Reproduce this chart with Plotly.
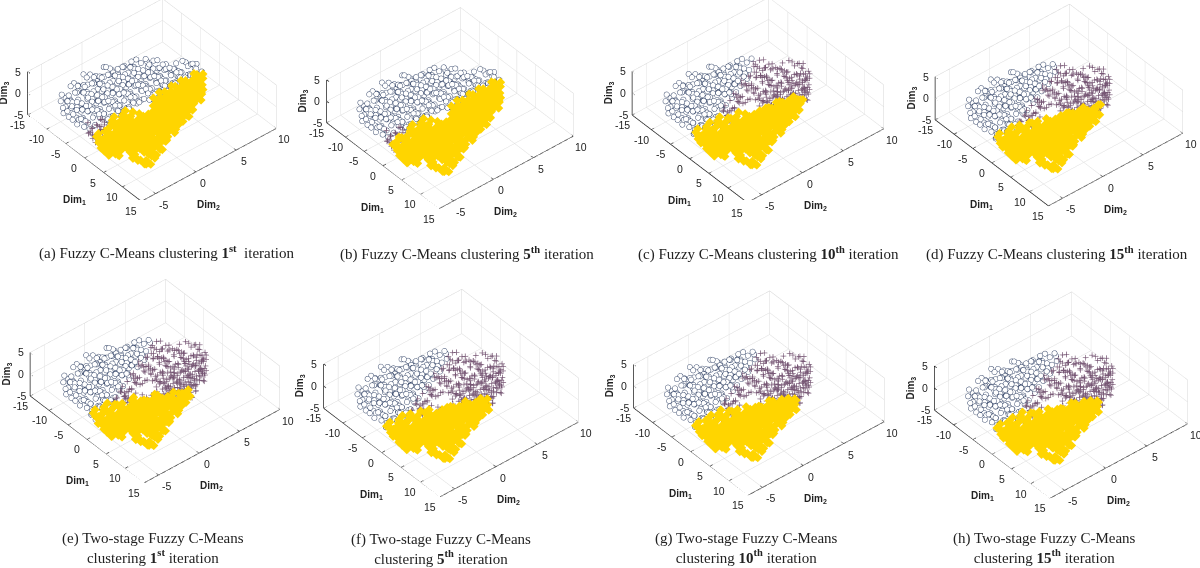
# fuzzy c-means panels, same point cloud re-clustered in each panel
import numpy as np
import plotly.graph_objects as go

# point cloud, one row per Dim1 value
dim1_rows = [-12.3, -11.6, -11.2, -10.8, -10.4, -10.0, -9.6, -9.2, -8.8, -8.4,
             -8.0, -7.6, -7.2, -6.8, -6.4, -6.0, -5.6, -5.2, -4.8, -4.4,
             -4.0, -3.6, -3.2, -2.8, -2.4, -2.0, -1.6, -1.2, -0.8, -0.4,
             0.0, 0.3, 0.6, 0.9, 1.2, 1.5, 1.8, 2.1, 2.4, 2.7,
             3.0, 3.3, 3.6, 3.9, 4.2, 4.5, 4.8, 5.1, 5.4, 5.7,
             6.0, 6.3, 6.6, 6.9, 7.2, 7.5, 7.8, 8.1, 8.4, 8.7,
             9.0, 9.3, 9.6, 10.0, 10.4, 10.8, 11.2, 11.6, 12.0, 12.5]
dim3_rows = [0.5, -0.6, 0.9, -0.3, 0.7, -0.9, 0.2, 1.0, -0.7, 0.4,
             -1.1, 0.8, -0.2, 1.2, -0.8, 0.3, -1.0, 0.6, 1.1, -0.5,
             0.1, -1.2, 0.9, -0.4, 0.7, -0.9, 1.0, -0.1, -0.7, 0.5,
             0.4, -0.8, 1.0, -0.3, 0.6, -1.1, 0.8, -0.5, 1.2, -0.9,
             0.2, 1.0, -0.6, 0.5, -1.0, 0.9, -0.2, 0.7, -1.2, 0.3,
             1.1, -0.7, 0.5, -0.9, 1.0, -0.4, 0.8, -1.1, 0.2, 0.6,
             -0.8, 1.0, -0.3, 0.7, -0.6, 0.9, -1.0, 0.4, -0.5, 0.2]
dim2_rows = [
    [-1.1], [-2.1, 0.1], [-2.8, -0.8, 0.9], [-1.8, 0.2, 1.7], [-4.7, -2.7, -0.7, 1.3],
    [-3.9, -2.0, -0.1, 2.1], [-5.2, -3.2, -1.1, 0.8, 2.6], [-4.4, -2.4, -0.3, 1.7, 3.4],
    [-5.3, -3.4, -1.5, 0.5, 2.4], [-4.5, -2.5, -0.6, 1.4, 3.3, 4.2],
    [-5.6, -3.6, -1.7, 0.2, 2.2, 3.9], [-4.7, -2.8, -0.9, 1.1, 3.0, 4.6],
    [-5.5, -3.7, -1.8, 0.1, 2.0, 3.9], [-4.5, -2.7, -0.7, 1.2, 3.1, 5.0],
    [-5.7, -3.9, -2.0, -0.1, 1.8, 3.7, 5.5], [-4.9, -3.0, -1.1, 0.8, 2.7, 4.6],
    [-5.6, -3.7, -1.7, 0.2, 2.1, 4.0, 5.8], [-4.6, -2.6, -0.8, 1.2, 3.1, 5.0],
    [-5.9, -3.9, -2.0, -0.1, 1.8, 3.7, 5.6], [-4.9, -2.8, -0.9, 1.0, 2.9, 4.7, 6.4],
    [-5.6, -3.6, -1.7, 0.2, 2.1, 4.0, 5.9], [-4.7, -2.7, -0.8, 1.1, 3.0, 4.9, 6.8],
    [-5.7, -3.7, -1.8, 0.1, 2.0, 3.9, 5.8, 7.3], [-5.0, -3.0, -1.0, 1.0, 2.9, 4.7, 6.6],
    [-5.5, -3.5, -1.6, 0.3, 2.2, 4.1, 6.0, 7.6], [-4.5, -2.6, -0.6, 1.3, 3.2, 5.1, 7.0],
    [-5.6, -3.6, -1.7, 0.2, 2.1, 4.0, 5.9, 7.9], [-4.7, -2.7, -0.7, 1.2, 3.1, 5.0, 6.9],
    [-5.9, -3.9, -1.8, 2.0, 3.9, 5.8, 7.8], [-5.0, -3.0, -1.1, 2.8, 4.7, 6.6],
    [-6.2, -4.9, -3.5, -2.2, 1.3, 2.6, 4.0, 5.3, 6.7, 7.8],
    [-5.5, -4.2, -2.8, -1.5, 2.0, 3.3, 4.6, 6.0, 7.3],
    [-6.3, -5.0, -3.6, -2.3, 1.5, 2.9, 4.2, 5.5, 6.9],
    [-5.6, -4.3, -3.0, -1.6, 2.2, 3.5, 4.9, 6.2, 7.5],
    [-6.3, -5.0, -3.6, -2.3, 1.7, 3.1, 4.4, 5.8, 7.1],
    [-5.7, -4.4, -3.1, -1.7, 2.4, 3.7, 5.1, 6.4],
    [-6.4, -5.1, -3.7, -2.4, 2.9, 4.3, 5.6, 6.5],
    [-5.9, -4.5, -3.2, -1.8, 2.3, 3.6, 5.0, 6.3],
    [-6.4, -5.1, -3.7, -2.4, -1.1, 1.5, 2.9, 4.2, 5.5, 6.5],
    [-5.9, -4.5, -3.2, -1.8, -0.5, 0.8, 2.2, 3.5, 4.9, 6.2],
    [-6.4, -5.1, -3.7, -2.4, -1.1, 0.3, 1.6, 3.0, 4.3, 5.6, 6.3],
    [-5.7, -4.4, -3.1, -1.7, -0.4, 1.0, 2.3, 3.6, 5.0, 6.3],
    [-6.4, -5.1, -3.7, -2.4, -1.1, 0.3, 1.6, 3.0, 4.3, 5.6],
    [-5.9, -4.5, -3.2, -1.8, -0.5, 0.8, 2.2, 3.5, 4.9, 6.1],
    [-6.3, -5.0, -3.6, -2.3, -1.0, 0.4, 1.7, 3.1, 4.4, 5.6],
    [-5.7, -4.4, -3.1, -1.7, -0.4, 1.0, 2.3, 3.6, 5.0],
    [-6.4, -5.1, -3.7, -2.4, -1.1, 0.3, 1.6, 3.0, 4.3],
    [-5.9, -4.5, -3.2, -1.8, -0.5, 0.8, 2.2, 3.5, 4.4],
    [-6.3, -5.0, -3.6, -2.3, -1.0, 0.4, 1.7, 3.1, 4.1],
    [-5.7, -4.4, -3.1, -1.7, -0.4, 1.0, 2.3, 3.5],
    [-6.3, -5.0, -3.6, -2.3, -1.0, 0.4, 1.7, 3.2],
    [-5.9, -4.5, -3.2, -1.8, -0.5, 0.8, 2.2, 3.0],
    [-6.0, -5.1, -3.7, -2.4, -1.1, 0.3, 1.6, 2.5],
    [-5.7, -4.4, -3.1, -1.7, -0.4, 1.0, 2.2],
    [-5.0, -3.6, -2.3, -1.0, 0.4, 1.7],
    [-4.5, -3.2, -1.8, -0.5, 0.8, 1.4],
    [-5.0, -3.6, -2.3, -1.0, 0.4],
    [-4.4, -3.1, -1.7, -0.4, 0.6],
    [-5.0, -3.6, -2.3, -1.0, 0.2],
    [-4.4, -3.1, -1.7, -0.4],
    [-5.0, -3.6, -2.3, -0.8],
    [-4.3, -3.0, -1.6],
    [-4.9, -3.5, -2.2, -1.2],
    [-4.2, -2.8, -1.7],
    [-4.7, -3.4, -2.2],
    [-4.1, -2.7],
    [-4.6, -3.3],
    [-3.9],
    [-4.4],
    [-5.0],
]

# second pass over the cloud, the rows in between
dim1_rows_b = [-11.0, -10.6, -10.2, -9.8, -9.4, -9.0, -8.6, -8.2, -7.8, -7.4,
               -7.0, -6.6, -6.2, -5.8, -5.4, -5.0, -4.6, -4.2, -3.8, -3.4,
               -3.0, -2.6, -2.2, -1.8, -1.4, -1.0, -0.6, -0.2,
               0.15, 0.45, 0.75, 1.05, 1.35, 1.65, 1.95, 2.25, 2.55, 2.85,
               3.15, 3.45, 3.75, 4.05, 4.35, 4.65, 4.95, 5.25, 5.55, 5.85,
               6.15, 6.45, 6.75, 7.05, 7.35, 7.65, 7.95, 8.25, 8.55, 8.85,
               9.15, 9.45, 9.8, 10.2, 10.6, 11.0, 11.4, 11.8]
dim3_rows_b = [-0.9, 1.3, -0.4, 0.2, -1.4, 1.1, 0.6, -1.0, 1.4, -0.7,
               0.3, -1.3, 1.5, 0.0, -0.8, 1.2, -1.5, 0.7, -0.2, 1.4,
               -1.1, 0.4, -1.4, 1.3, -0.5, 0.9, -1.2, 1.5,
               -1.3, 1.4, -0.1, -1.5, 1.2, 0.3, -0.9, 1.5, -1.4, 0.6,
               -1.2, -0.2, 1.3, -1.5, 1.4, -0.7, 0.2, -1.3, 1.5, -0.4,
               -1.4, 1.2, 0.0, 1.4, -1.3, -0.6, 1.5, -1.5, 0.9, -0.3,
               1.3, -1.4, 0.5, -1.1, 1.2, -0.7, 0.8, -1.2]
dim2_rows_b = [
    [-1.2, 0.6], [-3.5, -1.5, 0.9], [-4.3, -2.6, -0.4, 1.6], [-3.0, -1.0, 0.3, 2.8],
    [-4.7, -2.1, -0.7, 1.2, 3.1], [-3.7, -1.6, 0.4, 2.2, 3.9], [-4.9, -2.9, -0.9, 1.0, 3.0],
    [-4.0, -2.1, -0.2, 1.9, 3.7], [-5.2, -3.2, -1.2, 0.7, 2.6, 4.5], [-4.2, -2.3, -0.4, 1.6, 3.5, 5.0],
    [-5.1, -3.1, -1.3, 0.6, 2.5, 4.4], [-4.1, -2.2, -0.3, 1.5, 3.4, 5.3],
    [-5.4, -3.4, -1.5, 0.4, 2.3, 4.2, 5.2], [-4.3, -2.4, -0.5, 1.4, 3.2, 5.1],
    [-5.2, -3.1, -1.3, 0.7, 2.6, 4.5, 6.0], [-4.2, -2.2, -0.4, 1.5, 3.5, 5.3],
    [-5.5, -3.4, -1.4, 0.6, 2.4, 4.3, 6.1], [-4.4, -2.3, -0.5, 1.6, 3.4, 5.3, 6.6],
    [-5.2, -3.2, -1.2, 0.7, 2.6, 4.5, 6.3], [-4.2, -2.2, -0.3, 1.5, 3.5, 5.4, 7.0],
    [-5.4, -3.4, -1.4, 0.5, 2.5, 4.3, 6.2], [-4.5, -2.5, -0.6, 1.6, 3.4, 5.2, 7.3],
    [-5.1, -3.0, -1.1, 0.8, 2.7, 4.6, 6.5], [-4.1, -2.1, -0.2, 1.7, 3.6, 5.5, 7.5],
    [-5.2, -3.2, -1.2, 0.7, 2.6, 4.5, 6.4], [-4.3, -2.2, -0.3, 1.6, 3.5, 5.4, 7.4],
    [-5.5, -3.4, -1.4, 2.4, 4.3, 6.2], [-4.5, -2.5, -0.6, 3.3, 5.2, 7.2],
    [-5.8, -4.6, -3.1, -1.9, 1.7, 3.0, 4.3, 5.7, 7.0],
    [-6.0, -4.5, -3.3, -1.9, 2.3, 3.8, 5.0, 6.6],
    [-5.2, -3.9, -2.6, 1.9, 3.2, 4.5, 5.9, 7.2],
    [-5.9, -4.7, -3.3, -1.9, 2.4, 3.8, 5.1, 6.8],
    [-5.4, -4.0, -2.7, -1.4, 2.0, 3.3, 4.8, 6.1, 7.3],
    [-6.0, -4.8, -3.4, -2.1, 2.0, 3.1, 4.6, 5.9],
    [-5.4, -4.1, -2.8, -1.5, 2.6, 3.9, 5.3, 6.4],
    [-6.1, -4.8, -3.5, -2.1, 2.0, 3.3, 4.6, 6.0],
    [-5.5, -4.2, -2.9, -1.5, 1.1, 2.6, 3.9, 5.3, 6.5],
    [-6.1, -4.9, -3.5, -2.1, -0.8, 0.5, 1.9, 3.3, 4.6, 5.9],
    [-5.3, -4.0, -2.7, -1.4, 0.0, 1.3, 2.6, 4.0, 5.3, 6.3],
    [-6.1, -4.7, -3.4, -2.0, -0.7, 0.7, 2.0, 3.3, 4.7, 5.9],
    [-5.5, -4.2, -2.8, -1.5, -0.2, 1.1, 2.5, 3.8, 5.2],
    [-6.1, -4.8, -3.4, -2.1, -0.8, 0.5, 1.9, 3.3, 4.7, 5.8],
    [-5.4, -4.1, -2.8, -1.4, -0.1, 1.3, 2.6, 3.9, 5.3],
    [-6.0, -4.7, -3.4, -2.0, -0.7, 0.7, 2.0, 3.3, 4.6],
    [-5.5, -4.2, -2.8, -1.5, -0.2, 1.1, 2.5, 3.8, 4.8],
    [-6.1, -4.7, -3.4, -2.1, -0.8, 0.5, 1.9, 3.3, 4.2],
    [-5.4, -4.1, -2.8, -1.4, -0.1, 1.3, 2.6, 3.9],
    [-6.0, -4.7, -3.3, -2.0, -0.7, 0.7, 2.0, 3.3],
    [-5.5, -4.2, -2.9, -1.5, -0.2, 1.1, 2.4, 3.3],
    [-6.0, -4.8, -3.4, -2.1, -0.8, 0.5, 1.9, 2.7],
    [-5.4, -4.0, -2.7, -1.4, -0.1, 1.3, 2.4],
    [-4.7, -3.3, -2.0, -0.7, 0.7, 1.9],
    [-4.2, -2.9, -1.5, -0.2, 1.1],
    [-4.7, -3.4, -2.0, -0.7, 0.5],
    [-4.1, -2.7, -1.4, -0.1, 0.9],
    [-4.7, -3.3, -2.0, -0.7],
    [-4.1, -2.8, -1.5, -0.1],
    [-4.7, -3.3, -2.0, -0.6],
    [-4.0, -2.7, -1.2],
    [-4.6, -3.2, -1.9],
    [-3.9, -2.5, -1.4],
    [-4.5, -3.1, -1.9],
    [-3.8, -2.4],
    [-4.3, -3.0],
    [-3.6],
    [-4.1],
]

# cluster centres per panel (Dim1, Dim2), order a..h
white_centres = [(-5.5, 1.1), (-5.5, 1.1), (-8, -1.5), (-8, -1.5), (-8, -2), (-8, -1.5), (-8, -1.5), (-8, -1.5)]
purple_centres = [(-0.5, -4.7), (-0.5, -4.7), (-1.5, 4.4), (-1, 4.2), (-1, 4.2), (-1, 4.3), (-1, 4.3), (-1, 4.3)]
yellow_centres = [(5.5, 1.1), (5.5, 1.1), (7.5, -0.5), (7.8, -1), (9, -3.5), (8.5, -3), (8, -2.2), (8, -2.2)]
purple_penalty = [5.5, 6, 0, 0, 0, 0, 0, 0]

captions = [
    "(a) Fuzzy C-Means clustering <b>1<sup>st</sup></b>  iteration",
    "(b) Fuzzy C-Means clustering <b>5<sup>th</sup></b> iteration",
    "(c) Fuzzy C-Means clustering <b>10<sup>th</sup></b> iteration",
    "(d) Fuzzy C-Means clustering <b>15<sup>th</sup></b> iteration",
    "(e) Two-stage Fuzzy C-Means<br>clustering <b>1<sup>st</sup></b> iteration",
    "(f) Two-stage Fuzzy C-Means<br>clustering <b>5<sup>th</sup></b> iteration",
    "(g) Two-stage Fuzzy C-Means<br>clustering <b>10<sup>th</sup></b> iteration",
    "(h) Two-stage Fuzzy C-Means<br>clustering <b>15<sup>th</sup></b> iteration",
]
caption_x = [167, 467, 768, 1057, 153, 441, 746, 1044]
caption_y = [252, 254, 254, 254, 548, 549, 548, 548]

dim1_ticks = [-15, -10, -5, 0, 5, 10, 15]
dim2_ticks = [-5, 0, 5, 10]
dim3_ticks = [-5, 0, 5]
x_range = [-15, 15]
y_range = [-6.75, 10]
z_range = [-5, 5]

# panel placement in page pixels: box centre, half height of the scene, L-R span of the box
W, H = 1200, 568
box_cx = [151.5, 449.5, 758, 1059, 155, 450.5, 758.5, 1061]
box_cy = [100, 108, 100, 105, 381, 393, 393, 395]
box_hh = [100, 108, 100, 105, 112, 112, 112, 112]
box_span = [247, 245, 250, 246, 248, 253, 249, 251.5]
half_w = 135

eye_dir = np.array([0.587, -0.495, 0.641])
eye_dist = 4.0
span_per_hh = 1.4  # box L-R span in px for aspect 1, per px of scene half height

rows_x = dim1_rows + dim1_rows_b
rows_y = dim2_rows + dim2_rows_b
rows_z = dim3_rows + dim3_rows_b
cloud_x = np.array([x for x, ys in zip(rows_x, rows_y) for _ in ys])
cloud_y = np.array([y for ys in rows_y for y in ys])
cloud_z = np.array([z for z, ys in zip(rows_z, rows_y) for _ in ys])


def memberships(i):
    d = [np.hypot(cloud_x - c[i][0], cloud_y - c[i][1]) for c in (white_centres, purple_centres, yellow_centres)]
    d[1] = d[1] + purple_penalty[i]
    return np.argmin(np.array(d), axis=0)


def line_trace(scene, xs, ys, zs, color, width):
    return go.Scatter3d(x=xs, y=ys, z=zs, mode="lines", scene=scene, showlegend=False,
                        hoverinfo="skip", line=dict(color=color, width=width))


fig = go.Figure()
styles = [
    dict(symbol="circle", size=3.1, color="white", line=dict(color="#3f4f70", width=0.8)),
    dict(symbol="cross", size=3.2, color="#765674"),
    dict(symbol="diamond", size=3.0, color="#ffd500"),
]

for i in range(8):
    name = "scene" if i == 0 else "scene%d" % (i + 1)
    label = np.array(memberships(i))
    for k in (0, 1, 2):
        m = label == k
        fig.add_trace(go.Scatter3d(x=cloud_x[m], y=cloud_y[m], z=cloud_z[m], mode="markers", scene=name,
                                   showlegend=False, hoverinfo="skip", marker=styles[k]))

    x0, x1 = x_range
    y0, y1 = y_range
    z0, z1 = z_range
    # back box edges
    fig.add_trace(line_trace(name, [x0, x0, x1, x1, None, x0, x0], [y0, y1, y1, y1, None, y1, y1],
                             [z1, z1, z1, z0, None, z0, z1], "#d4d4d4", 1))
    # spines and short ticks, each axis on its own so the long lines stay solid
    fig.add_trace(line_trace(name, [x0, x1], [y0, y0], [z0, z0], "#222222", 1.5))
    fig.add_trace(line_trace(name, [x1, x1], [y0, y1], [z0, z0], "#222222", 1.5))
    fig.add_trace(line_trace(name, [x0, x0], [y0, y0], [z0, z1], "#222222", 1.5))
    sx, sy, sz = [], [], []
    for t in dim1_ticks:
        sx += [None, t, t]
        sy += [None, y0, y0 + 0.35]
        sz += [None, z0, z0]
    for t in dim2_ticks:
        sx += [None, x1, x1 - 0.6]
        sy += [None, t, t]
        sz += [None, z0, z0]
    for t in dim3_ticks:
        sx += [None, x0, x0 + 0.6]
        sy += [None, y0, y0]
        sz += [None, t, t]
    fig.add_trace(line_trace(name, sx[1:], sy[1:], sz[1:], "#222222", 1.5))

    notes = []
    tick_font = dict(family="Liberation Sans", size=10.5, color="#222")
    title_font = dict(family="Liberation Sans", size=10, color="#222")
    for t in dim1_ticks:
        notes.append(dict(x=t, y=y0, z=z0, text=str(t), showarrow=False, xshift=-10, yshift=-10, font=tick_font))
    for t in dim2_ticks:
        notes.append(dict(x=x1, y=t, z=z0, text=str(t), showarrow=False, xshift=8, yshift=-11, font=tick_font))
    for t in dim3_ticks:
        notes.append(dict(x=x0, y=y0, z=t, text=str(t), showarrow=False, xshift=-9, yshift=0, font=tick_font))
    notes.append(dict(x=0, y=y0, z=z0, text="<b>Dim<sub>1</sub></b>", showarrow=False, xshift=-10, yshift=-42, font=title_font))
    notes.append(dict(x=x1, y=1.6, z=z0, text="<b>Dim<sub>2</sub></b>", showarrow=False, xshift=0, yshift=-40, font=title_font))
    notes.append(dict(x=x0, y=y0, z=0, text="<b>Dim<sub>3</sub></b>", showarrow=False, xshift=-23, yshift=0,
                      textangle=-90, font=title_font))

    axis = dict(showbackground=False, showticklabels=False, showline=False, zeroline=False, showspikes=False,
                gridcolor="#dcdcdc", gridwidth=1, title=dict(text=""), ticks="")
    f = box_span[i] / (span_per_hh * box_hh[i])
    layout_scene = dict(
        domain=dict(x=[(box_cx[i] - half_w) / W, (box_cx[i] + half_w) / W],
                    y=[1 - (box_cy[i] + box_hh[i]) / H, 1 - (box_cy[i] - box_hh[i]) / H]),
        xaxis=dict(axis, range=x_range, tickvals=dim1_ticks),
        yaxis=dict(axis, range=y_range, tickvals=dim2_ticks),
        zaxis=dict(axis, range=z_range, tickvals=dim3_ticks),
        aspectmode="manual",
        aspectratio=dict(x=f, y=f, z=0.32 * f),
        camera=dict(projection=dict(type="orthographic"),
                    eye=dict(x=eye_dir[0] * eye_dist, y=eye_dir[1] * eye_dist, z=eye_dir[2] * eye_dist),
                    up=dict(x=0, y=0, z=1)),
        bgcolor="rgba(0,0,0,0)",
        annotations=notes,
        dragmode=False,
    )
    fig.update_layout({name: layout_scene})

page_notes = []
for i in range(8):
    page_notes.append(dict(x=caption_x[i] / W, y=1 - caption_y[i] / H, xref="paper", yref="paper", text=captions[i],
                           showarrow=False, xanchor="center", yanchor="middle", align="center"))
fig.update_layout(width=W, height=H, margin=dict(l=0, r=0, t=0, b=0), paper_bgcolor="white",
                  font=dict(family="Liberation Serif", size=15, color="#222"), annotations=page_notes,
                  showlegend=False)
fig.write_html("out.html", config=dict(displayModeBar=False),
               post_script="document.body.style.margin='0';")
